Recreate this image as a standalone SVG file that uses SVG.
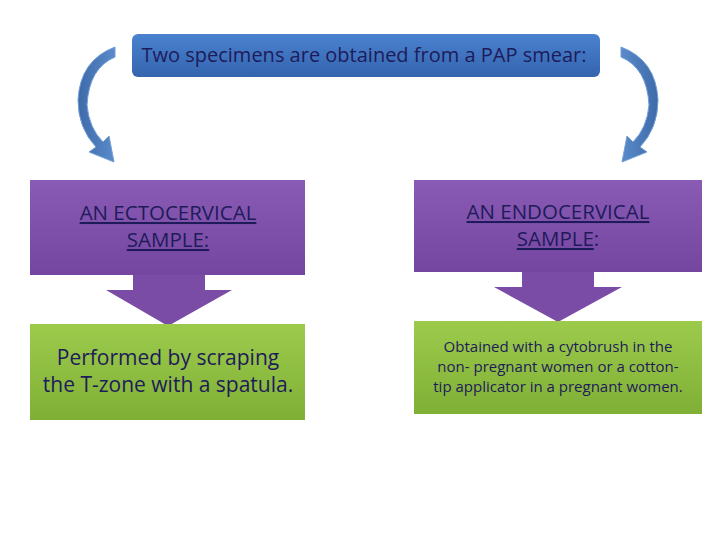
<svg xmlns="http://www.w3.org/2000/svg" width="720" height="540" viewBox="0 0 720 540">
<defs>
<linearGradient id="gb" x1="0" y1="0" x2="0" y2="1"><stop offset="0" stop-color="#4a82cf"/><stop offset="1" stop-color="#3464ae"/></linearGradient>
<linearGradient id="gp" x1="0" y1="0" x2="0" y2="1"><stop offset="0" stop-color="#8a5bb5"/><stop offset="1" stop-color="#7546a0"/></linearGradient>
<linearGradient id="gg" x1="0" y1="0" x2="0" y2="1"><stop offset="0" stop-color="#9ccb4c"/><stop offset="1" stop-color="#7faf35"/></linearGradient>
<linearGradient id="ga" x1="0" y1="0" x2="1" y2="0"><stop offset="0" stop-color="#3e6aa8"/><stop offset="1" stop-color="#5b8bcb"/></linearGradient>
<style>
.t{font-family:"Open Sans","DejaVu Sans",sans-serif;text-anchor:middle}
.h{font-family:"Open Sans","DejaVu Sans",sans-serif;font-size:20.5px;fill:#1e1b5a;text-anchor:middle;text-decoration:underline}
</style>
</defs>
<rect width="720" height="540" fill="#fff"/>
<g id="connectors">
<path d="M115,47 L115,57 Q89,68 87,105 Q89,128 103,142 L109,136 L114,162 L89,152 L96,147 Q78,128 78,100 Q80,60 115,47 Z" fill="url(#ga)" stroke="#6f9fd8" stroke-width="1"/>
<path transform="translate(736,0) scale(-1,1)" d="M115,47 L115,57 Q89,68 87,105 Q89,128 103,142 L109,136 L114,162 L89,152 L96,147 Q78,128 78,100 Q80,60 115,47 Z" fill="url(#ga)" stroke="#6f9fd8" stroke-width="1"/>
<polygon points="133,275 205,275 205,290 232,290 168,326 106,290 133,290" fill="#7b4ca5"/>
<polygon points="522,272 594,272 594,287 622,287 558,322 494,287 522,287" fill="#7b4ca5"/>
</g>
<g id="top">
<rect x="132" y="34" width="468" height="43" rx="6" fill="url(#gb)"/>
<text class="t" x="364" y="62" font-size="20" fill="#1e1b5a">Two specimens are obtained from a PAP smear:</text>
</g>
<g id="ecto">
<rect x="30" y="180" width="275" height="95" fill="url(#gp)"/>
<text class="h" x="168" y="220">AN ECTOCERVICAL</text>
<text class="h" x="168" y="247">SAMPLE:</text>
</g>
<g id="endo">
<rect x="414" y="180" width="288" height="92" fill="url(#gp)"/>
<text class="h" x="558" y="219">AN ENDOCERVICAL</text>
<text class="t" x="558" y="246" font-size="20.5" fill="#1e1b5a"><tspan text-decoration="underline">SAMPLE</tspan>:</text>
</g>
<g id="ecto-desc">
<rect x="30" y="324" width="275" height="96" fill="url(#gg)"/>
<text class="t" x="168" y="365" font-size="21" fill="#1e1b5a">Performed by scraping</text>
<text class="t" x="168" y="392" font-size="21" fill="#1e1b5a">the T-zone with a spatula.</text>
</g>
<g id="endo-desc">
<rect x="414" y="321" width="288" height="93" fill="url(#gg)"/>
<text class="t" x="558" y="352" font-size="15" fill="#1e1b5a">Obtained with a cytobrush in the</text>
<text class="t" x="558" y="372" font-size="15" fill="#1e1b5a">non- pregnant women or a cotton-</text>
<text class="t" x="558" y="392" font-size="15" fill="#1e1b5a">tip applicator in a pregnant women.</text>
</g>
</svg>
